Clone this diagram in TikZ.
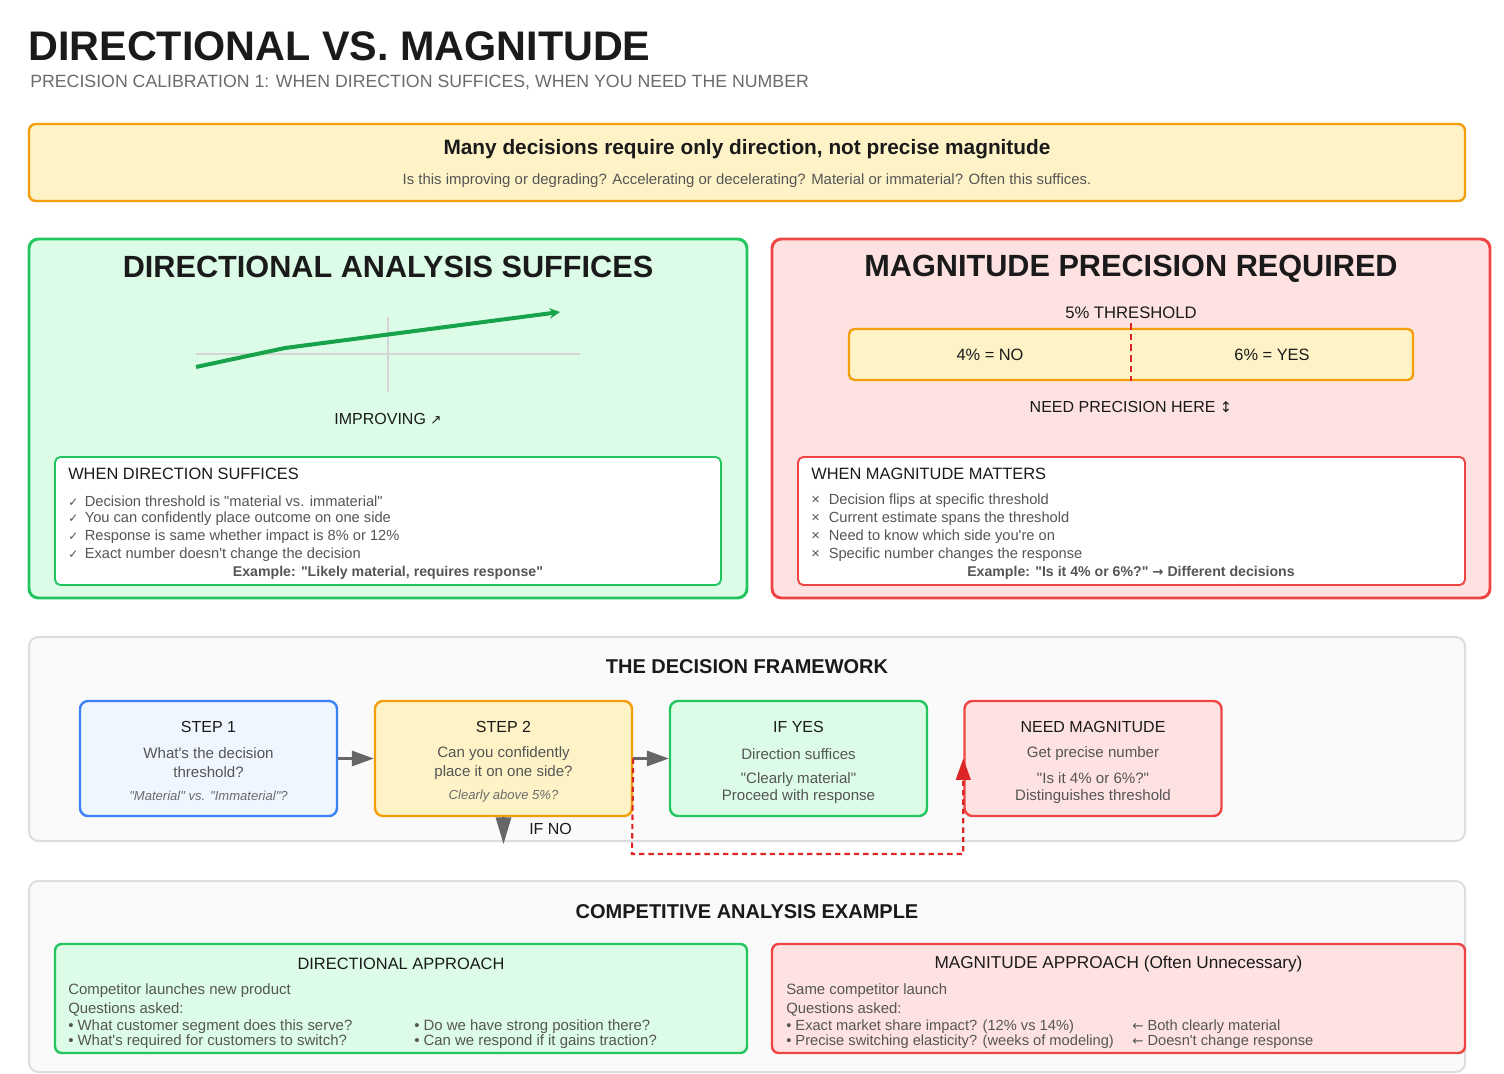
\documentclass[tikz,border=0pt]{standalone}
\usepackage{fontspec}
\setmainfont{Liberation Sans}[Ligatures=TeXOff]
\newfontfamily\symfont{DejaVu Sans}
\usetikzlibrary{arrows.meta,positioning}

\definecolor{ink}{HTML}{1A1A1A}
\definecolor{softink}{HTML}{555555}
\definecolor{greyink}{HTML}{6B6B6B}
\definecolor{greenfill}{HTML}{DCFCE7}
\definecolor{greenline}{HTML}{22C55E}
\definecolor{trendgreen}{HTML}{16A34A}
\definecolor{redfill}{HTML}{FEE2E2}
\definecolor{redline}{HTML}{EF4444}
\definecolor{dashred}{HTML}{DC2626}
\definecolor{yellowfill}{HTML}{FEF3C7}
\definecolor{orangeline}{HTML}{F59E0B}
\definecolor{bluefill}{HTML}{EFF6FF}
\definecolor{blueline}{HTML}{3B82F6}
\definecolor{panelfill}{HTML}{FAFAFA}
\definecolor{panelline}{HTML}{DDDDDD}
\definecolor{axisgrey}{HTML}{D4D4D4}
\definecolor{arrowgrey}{HTML}{666666}

\tikzset{
  fs/.style={font=\fontsize{#1}{#1}\selectfont},
  fsb/.style={font=\bfseries\fontsize{#1}{#1}\selectfont},
  fsi/.style={font=\itshape\fontsize{#1}{#1}\selectfont},
  box/.style 2 args={minimum width={#1*0.75pt}, minimum height={#2*0.75pt}, inner sep=0pt},
  txt/.style={inner sep=0pt, text=ink},
  bigpanel/.style={draw=#1, line width=2.2pt, rounded corners=7pt},
  innerbox/.style={draw=#1, fill=white, line width=1.4pt, rounded corners=4pt},
  stepbox/.style={line width=1.8pt, rounded corners=6pt},
  greypanel/.style={draw=panelline, fill=panelfill, line width=1.5pt, rounded corners=7pt},
  flow/.style={draw=arrowgrey, line width=1.6pt, -{Triangle[length=16.5pt,width=11.5pt]}},
  flowdown/.style={draw=arrowgrey, line width=1.6pt, -{Triangle[length=20pt,width=11.5pt]}},
  detour/.style={draw=dashred, line width=1.6pt, dash pattern=on 4pt off 3pt, -{Triangle[length=16pt,width=11pt]}},
}

\begin{document}
\begin{tikzpicture}[x=0.75pt, y=-0.75pt]
\useasboundingbox (0,0) rectangle (1504,1074);
\fill[white] (0,0) rectangle (1504,1074);

% header
\node[txt, anchor=west, fsb=31] (title) at (28,46) {DIRECTIONAL VS. MAGNITUDE};
\node[txt, anchor=west, fs=13.3, text=greyink] (subtitle) at (30,82) {PRECISION CALIBRATION 1: WHEN DIRECTION SUFFICES, WHEN YOU NEED THE NUMBER};

% banner
\node[box={1436}{77}, draw=orangeline, fill=yellowfill, line width=1.8pt, rounded corners=5pt] (banner) at (747,162.5) {};
\node[txt, fsb=15.6] (bannerhead) at (747,149) {Many decisions require only direction, not precise magnitude};
\node[txt, fs=11.2, text=softink] (bannersub) at (747,181) {Is this improving or degrading? Accelerating or decelerating? Material or immaterial? Often this suffices.};

% left panel
\node[box={718}{359}, bigpanel=greenline, fill=greenfill] (dirpanel) at (388,418.5) {};
\node[txt, fsb=23] (dirtitle) at (388,267) {DIRECTIONAL ANALYSIS SUFFICES};
\draw[axisgrey, line width=1.5pt] (196,354) -- (580,354);
\draw[axisgrey, line width=1.5pt] (388,317) -- (388,392);
\draw[trendgreen, line width=3pt, line join=round, -{Stealth[length=8pt,width=8pt,inset=3pt]}] (196,367) -- (285,348) -- (560,312);
\node[txt, fs=12] (improving) at (388,419) {IMPROVING {\symfont\fontsize{10}{10}\selectfont ↗}};

\node[box={666}{128}, innerbox=greenline] (dirbox) at (388,521) {};
\node[txt, anchor=west, fs=12.3] (dirboxtitle) at (68,474) {WHEN DIRECTION SUFFICES};
\foreach \item [count=\i] in {{Decision threshold is "material vs. immaterial"},
    {You can confidently place outcome on one side},
    {Response is same whether impact is 8\% or 12\%},
    {Exact number doesn't change the decision}}
  \node[txt, anchor=west, fs=11, text=softink] (diritem\i) at (68,{483+18*\i}) {{\symfont\fontsize{9}{9}\selectfont ✓}\, \item};
\node[txt, fsb=10.6, text=softink] (direxample) at (388,573) {Example: "Likely material, requires response"};

% right panel
\node[box={718}{359}, bigpanel=redline, fill=redfill] (magpanel) at (1131,418.5) {};
\node[txt, fsb=23] (magtitle) at (1131,269) {MAGNITUDE PRECISION REQUIRED};
\node[txt, fs=12.5] (threshlabel) at (1131,313) {5\% THRESHOLD};
\node[box={564}{51}, draw=orangeline, fill=yellowfill, line width=1.8pt, rounded corners=4pt] (thresh) at (1131,354.5) {};
\coordinate (cut) at (1131,323);
\draw[dashred, line width=2pt, dash pattern=on 5pt off 3pt] (cut) -- (thresh.south);
\node[txt, fs=12.3] (sayno) at (990,355) {4\% = NO};
\node[txt, fs=12.3] (sayyes) at (1272,355) {6\% = YES};
\node[txt, fs=12] (needhere) at (1131,407) {NEED PRECISION HERE {\symfont\fontsize{11}{11}\selectfont ↕}};

\node[box={667}{128}, innerbox=redline] (magbox) at (1131.5,521) {};
\node[txt, anchor=west, fs=12.3] (magboxtitle) at (811,474) {WHEN MAGNITUDE MATTERS};
\foreach \item [count=\i] in {{Decision flips at specific threshold},
    {Current estimate spans the threshold},
    {Need to know which side you're on},
    {Specific number changes the response}}
  \node[txt, anchor=west, fs=11, text=softink] (magitem\i) at (811,{483+18*\i}) {×\,\, \item};
\node[txt, fsb=10.6, text=softink] (magexample) at (1131,573) {Example: "Is it 4\% or 6\%?" {\symfont\fontsize{10}{10}\selectfont →} Different decisions};

% decision framework
\node[box={1436}{204}, greypanel] (framework) at (747,739) {};
\node[txt, fsb=15] (frametitle) at (747,667) {THE DECISION FRAMEWORK};

\node[box={257}{115}, stepbox, draw=blueline, fill=bluefill] (step1) at (208.5,758.5) {};
\node[box={257}{115}, stepbox, draw=orangeline, fill=yellowfill] (step2) at (503.5,758.5) {};
\node[box={257}{115}, stepbox, draw=greenline, fill=greenfill] (ifyes) at (798.5,758.5) {};
\node[box={257}{115}, stepbox, draw=redline, fill=redfill] (need) at (1093,758.5) {};

\node[txt, fs=12] (step1head) at (208.5,727) {STEP 1};
\node[txt, fs=11.3, text=softink, align=center] (step1text) at (208.5,763) {What's the decision\\[3pt]threshold?};
\node[txt, fsi=9.8, text=greyink] (step1note) at (208.5,796) {"Material" vs. "Immaterial"?};

\node[txt, fs=12] (step2head) at (503.5,727) {STEP 2};
\node[txt, fs=11.3, text=softink, align=center] (step2text) at (503.5,763) {Can you confidently\\[3pt]place it on one side?};
\node[txt, fsi=9.8, text=greyink] (step2note) at (503.5,796) {Clearly above 5\%?};

\node[txt, fs=12] (ifyeshead) at (798.5,727) {IF YES};
\node[txt, fs=11.3, text=softink] (ifyestext) at (798.5,754) {Direction suffices};
\node[txt, fs=11.3, text=softink, align=center] (ifyesnote) at (798.5,788) {"Clearly material"\\[2pt]Proceed with response};

\node[txt, fs=12] (needhead) at (1093,727) {NEED MAGNITUDE};
\node[txt, fs=11.3, text=softink] (needtext) at (1093,754) {Get precise number};
\node[txt, fs=11.3, text=softink, align=center] (neednote) at (1093,788) {"Is it 4\% or 6\%?"\\[2pt]Distinguishes threshold};

\draw[flow] (step1.east) -- (step2.west);
\draw[flow] (step2.east) -- (ifyes.west);
\coordinate (nobelow) at (503.5,844);
\draw[flowdown] (step2.south) -- (nobelow);
\node[txt, anchor=west, fs=12] (ifno) at (529,829) {IF NO};
\coordinate (detourlow) at (632,854);
\draw[detour] (step2.east) -- (detourlow) -| (need.west);

% competitive example
\node[box={1436}{191}, greypanel] (compete) at (747,976.5) {};
\node[txt, fsb=15] (competetitle) at (747,912) {COMPETITIVE ANALYSIS EXAMPLE};

\node[box={692}{109}, draw=greenline, fill=greenfill, line width=1.8pt, rounded corners=5pt] (dirapp) at (401,998.5) {};
\node[txt, fs=12.3] (dirapptitle) at (401,964) {DIRECTIONAL APPROACH};
\node[txt, anchor=west, fs=11.2, text=softink] (dirapp1) at (68,991) {Competitor launches new product};
\node[txt, anchor=west, fs=11.2, text=softink] (dirapp2) at (68,1009) {Questions asked:};
\node[txt, anchor=west, fs=11.2, text=softink] (dirapp3) at (68,1027) {• What customer segment does this serve?};
\node[txt, anchor=west, fs=11.2, text=softink] (dirapp4) at (68,1042) {• What's required for customers to switch?};
\node[txt, anchor=west, fs=11.2, text=softink] (dirapp5) at (414,1027) {• Do we have strong position there?};
\node[txt, anchor=west, fs=11.2, text=softink] (dirapp6) at (414,1042) {• Can we respond if it gains traction?};

\node[box={693}{109}, draw=redline, fill=redfill, line width=1.8pt, rounded corners=5pt] (magapp) at (1118.5,998.5) {};
\node[txt, fs=12.9] (magapptitle) at (1118.5,964) {MAGNITUDE APPROACH (Often Unnecessary)};
\node[txt, anchor=west, fs=11.2, text=softink] (magapp1) at (786,991) {Same competitor launch};
\node[txt, anchor=west, fs=11.2, text=softink] (magapp2) at (786,1009) {Questions asked:};
\node[txt, anchor=west, fs=11, text=softink] (magapp3) at (786,1027) {• Exact market share impact? (12\% vs 14\%)};
\node[txt, anchor=west, fs=11, text=softink] (magapp4) at (786,1042) {• Precise switching elasticity? (weeks of modeling)};
\node[txt, anchor=west, fs=11, text=softink] (magapp5) at (1132,1027) {{\symfont\fontsize{10}{10}\selectfont ←} Both clearly material};
\node[txt, anchor=west, fs=11, text=softink] (magapp6) at (1132,1042) {{\symfont\fontsize{10}{10}\selectfont ←} Doesn't change response};
\end{tikzpicture}
\end{document}
